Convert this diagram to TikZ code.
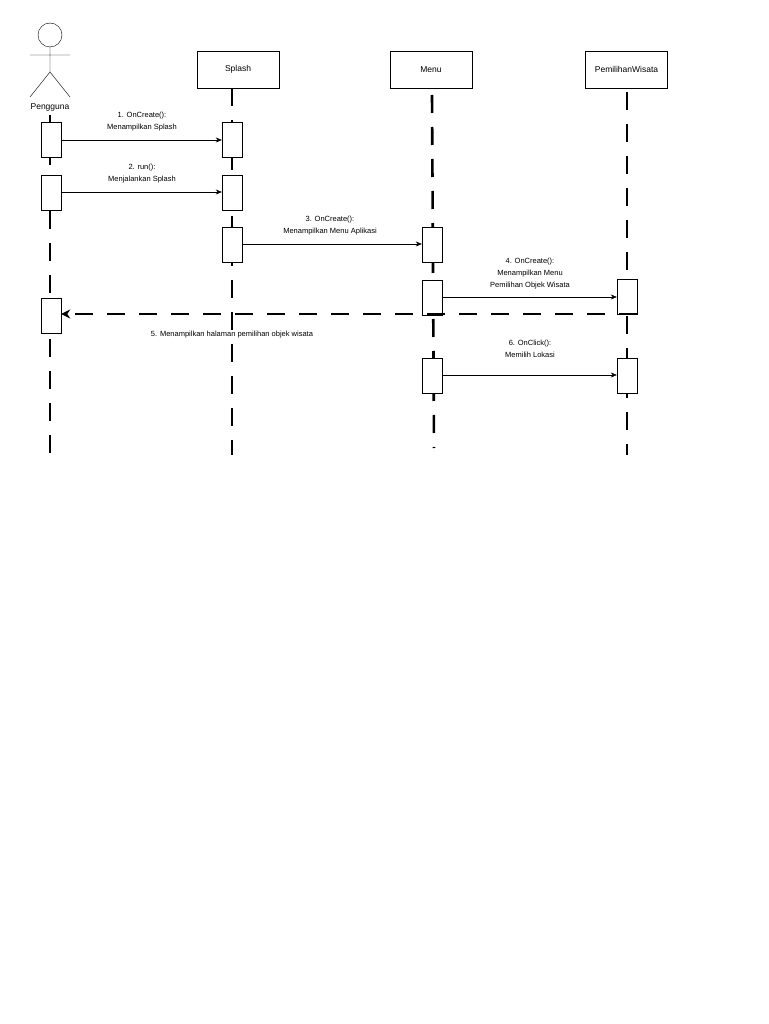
\documentclass[tikz,border=0pt]{standalone}
\usepackage{fontspec}
\setmainfont{Liberation Sans}
\usetikzlibrary{arrows.meta}
\begin{document}
\begin{tikzpicture}[x=1pt,y=-1pt,
  obj/.style={draw,fill=white,minimum width=82pt,minimum height=37pt,inner sep=0pt,font=\fontsize{8.5}{10}\selectfont},
  act/.style={draw,fill=white,minimum width=20pt,minimum height=35pt,inner sep=0pt},
  life/.style={line width=2.6pt,dash pattern=on 18pt off 14pt},
  msg/.style={-{Stealth[length=6pt,width=5pt]},line width=0.5pt},
  lbl/.style={font=\fontsize{7.5}{12}\selectfont,align=center}]
\useasboundingbox (0,0) rectangle (768,1024);
% actor
\draw (50,35) circle (12);
\draw (50,47) -- (50,72) (30,55) -- (70,55) (50,72) -- (30,97) (50,72) -- (70,97);
\node[font=\fontsize{8.5}{10}\selectfont] (pl) at (50,107) {Pengguna};
\node[obj] (s) at (238,69.5) {Splash};
\node[obj] (m) at (431,69.5) {Menu};
\node[obj] (w) at (626.5,69.5) {PemilihanWisata};
\coordinate (pe) at (50,455); \coordinate (pt) at (50,115);
\coordinate (st) at (232,88); \coordinate (se) at (232,455);
\coordinate (mt) at (432,95); \coordinate (me) at (434,448);
\coordinate (wt) at (627,92); \coordinate (we) at (627,455);
\draw[life] (pt) -- (pe); \draw[life] (st) -- (se);
\draw[life] (mt) -- (me); \draw[life] (wt) -- (we);
% activations
\node[act] (p1) at (51,139.5) {}; \node[act] (p2) at (51,192.5) {}; \node[act] (p3) at (51,315.5) {};
\node[act] (s1) at (232,139.5) {}; \node[act] (s2) at (232,192.5) {}; \node[act] (s3) at (232,245) {};
\node[act] (m1) at (432,245) {}; \node[act] (m2) at (432,297.5) {}; \node[act] (m3) at (432,375.5) {};
\node[act] (w1) at (627,297) {}; \node[act] (w2) at (627,375.5) {};
% messages
\draw[msg] (p1.east |- 0,140) -- (s1.west |- 0,140);
\node[lbl] at (142,122) {1. OnCreate():\\Menampilkan Splash};
\draw[msg] (p2.east |- 0,192) -- (s2.west |- 0,192);
\node[lbl] at (142,174) {2. run():\\Menjalankan Splash};
\draw[msg] (s3.east |- 0,244) -- (m1.west |- 0,244);
\node[lbl] at (330,226) {3. OnCreate():\\Menampilkan Menu Aplikasi};
\draw[msg] (m2.east |- 0,297) -- (w1.west |- 0,297);
\node[lbl] at (530,274) {4. OnCreate():\\Menampilkan Menu\\Pemilihan Objek Wisata};
\draw[life,-{Stealth[length=9pt,width=9pt]},line width=2.4pt] (w1.east |- 0,314) -- (p3.east |- 0,314);
\node[lbl] at (232,335) {5. Menampilkan halaman pemilihan objek wisata};
\draw[msg] (m3.east |- 0,375) -- (w2.west |- 0,375);
\node[lbl] at (530,349) {6. OnClick():\\Memilih Lokasi};
\end{tikzpicture}
\end{document}
